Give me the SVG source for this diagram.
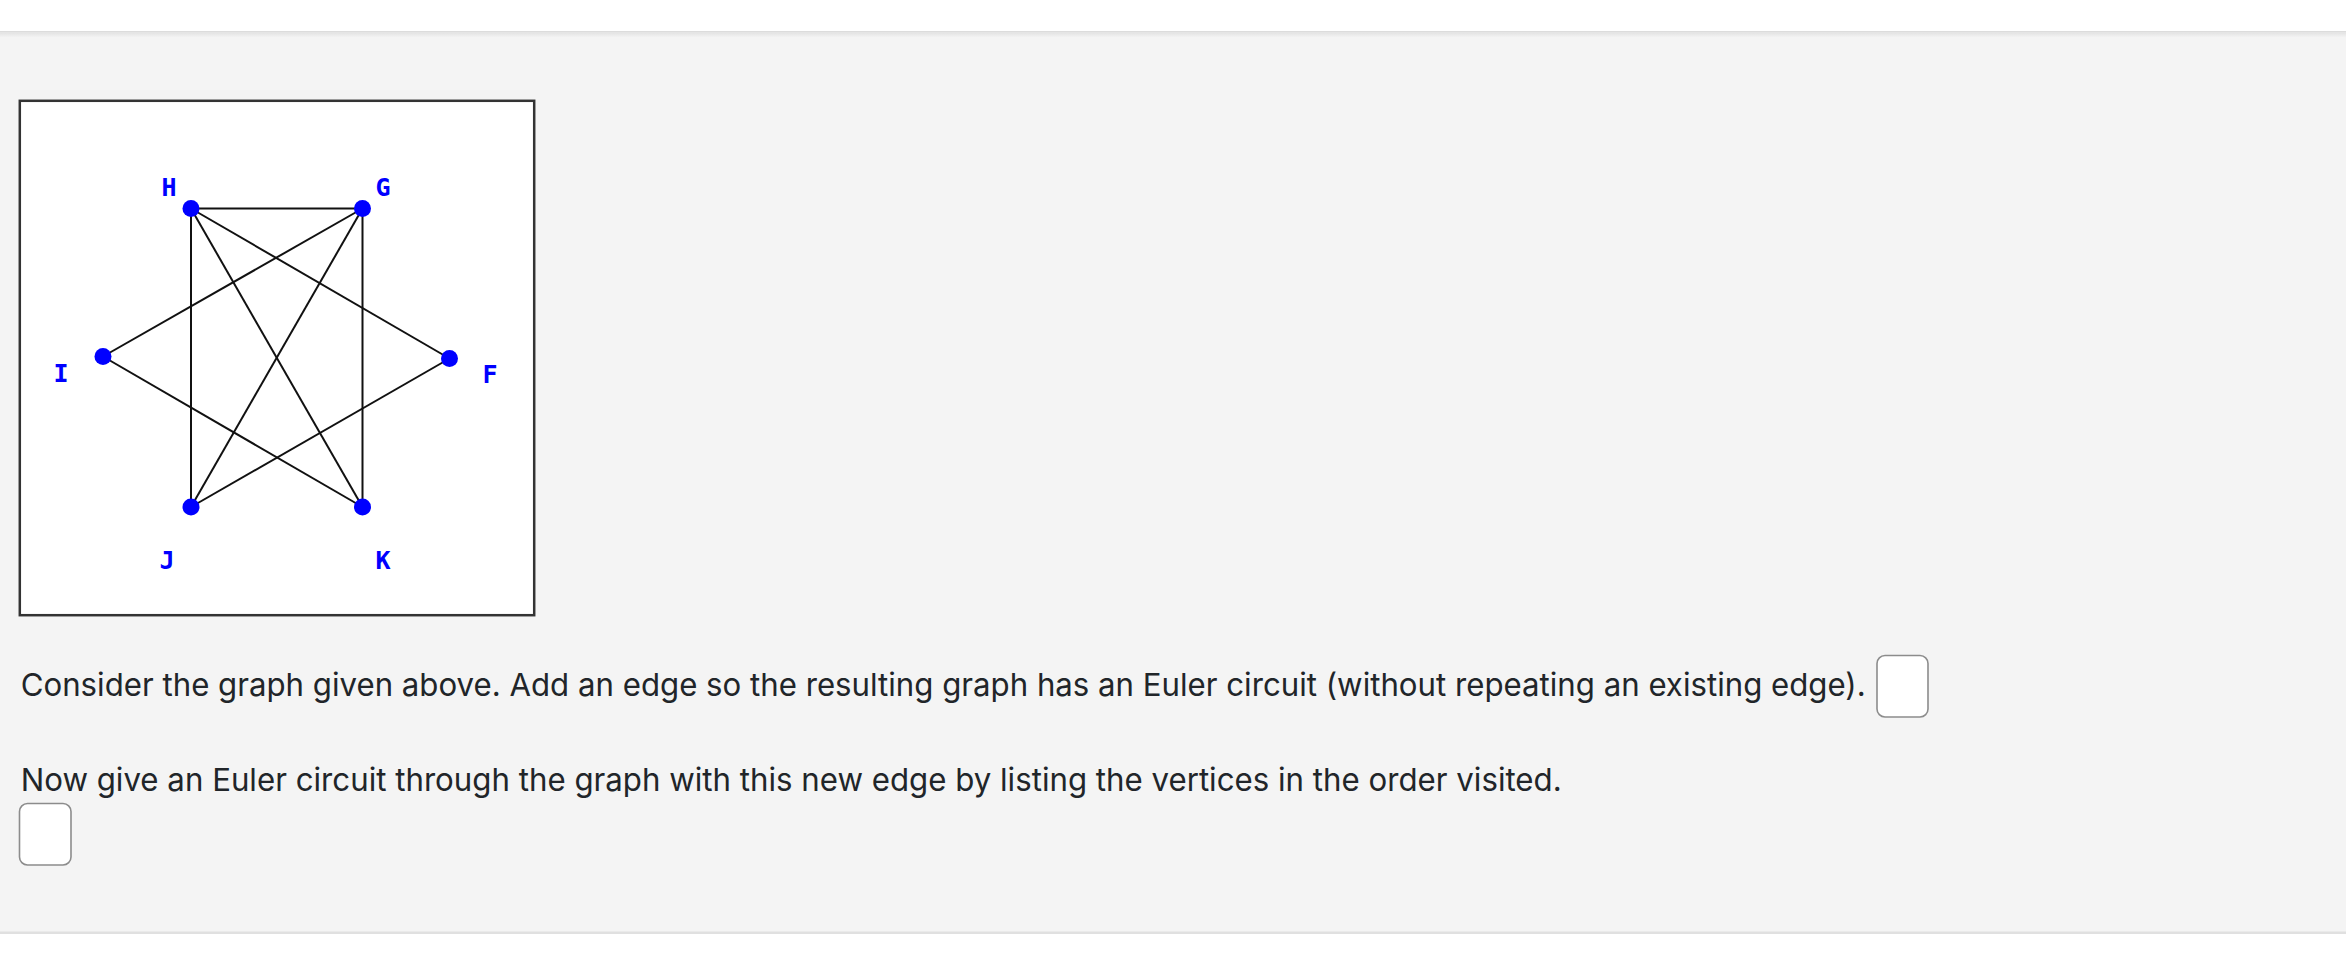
<svg xmlns="http://www.w3.org/2000/svg" width="2346" height="954" viewBox="0 0 2346 954">
<defs>
<linearGradient id="shadow" x1="0" y1="0" x2="0" y2="1">
<stop offset="0" stop-color="#e2e2e2"/>
<stop offset="1" stop-color="#f4f4f4"/>
</linearGradient>
<style>
.edge{stroke:#111;stroke-width:2;fill:none}
.node{fill:#0000ff}
.lbl{font-family:"DejaVu Sans Mono","Liberation Mono",monospace;font-weight:bold;font-size:25px;fill:#0000ff;text-anchor:middle}
.q{font-family:Inter,"Liberation Sans",sans-serif;font-size:31.5px;fill:#212529}
.inp{fill:#fff;stroke:#8c8c8c;stroke-width:1.6}
</style>
</defs>
<rect x="0" y="0" width="2346" height="954" fill="#f4f4f4"/>
<rect x="0" y="0" width="2346" height="31" fill="#fff"/>
<rect x="0" y="31" width="2346" height="1.5" fill="#dcdcdc"/>
<rect x="0" y="32.5" width="2346" height="5" fill="url(#shadow)"/>
<rect x="0" y="931.5" width="2346" height="2.5" fill="#e0e0e0"/>
<rect x="0" y="934" width="2346" height="20" fill="#fff"/>
<rect id="frame" x="19.8" y="100.8" width="514.4" height="514.4" fill="#fff" stroke="#333" stroke-width="2.5"/>
<g id="connectors">
<line class="edge" x1="191" y1="208.5" x2="362.5" y2="208.5"/>
<line class="edge" x1="191" y1="208.5" x2="191" y2="507"/>
<line class="edge" x1="362.5" y1="208.5" x2="362.5" y2="507"/>
<line class="edge" x1="191" y1="208.5" x2="449.5" y2="358.5"/>
<line class="edge" x1="191" y1="208.5" x2="362.5" y2="507"/>
<line class="edge" x1="362.5" y1="208.5" x2="103" y2="356.5"/>
<line class="edge" x1="362.5" y1="208.5" x2="191" y2="507"/>
<line class="edge" x1="103" y1="356.5" x2="362.5" y2="507"/>
<line class="edge" x1="191" y1="507" x2="449.5" y2="358.5"/>
</g>
<g id="node-H"><circle class="node" cx="191" cy="208.5" r="8.5"/><text class="lbl" x="169" y="195.5">H</text></g>
<g id="node-G"><circle class="node" cx="362.5" cy="208.5" r="8.5"/><text class="lbl" x="383" y="195.5">G</text></g>
<g id="node-I"><circle class="node" cx="103" cy="356.5" r="8.5"/><text class="lbl" x="61" y="381.5">I</text></g>
<g id="node-F"><circle class="node" cx="449.5" cy="358.5" r="8.5"/><text class="lbl" x="490" y="383">F</text></g>
<g id="node-J"><circle class="node" cx="191" cy="507" r="8.5"/><text class="lbl" x="167" y="568.5">J</text></g>
<g id="node-K"><circle class="node" cx="362.5" cy="507" r="8.5"/><text class="lbl" x="383" y="568.5">K</text></g>
<text class="q" x="20.7" y="696" textLength="1845" lengthAdjust="spacingAndGlyphs">Consider the graph given above. Add an edge so the resulting graph has an Euler circuit (without repeating an existing edge).</text>
<rect class="inp" x="1877" y="655.5" width="51" height="61.5" rx="8"/>
<text class="q" x="20.7" y="790.7" textLength="1541" lengthAdjust="spacingAndGlyphs">Now give an Euler circuit through the graph with this new edge by listing the vertices in the order visited.</text>
<rect class="inp" x="19.5" y="803.5" width="51.5" height="61.5" rx="8"/>
</svg>
